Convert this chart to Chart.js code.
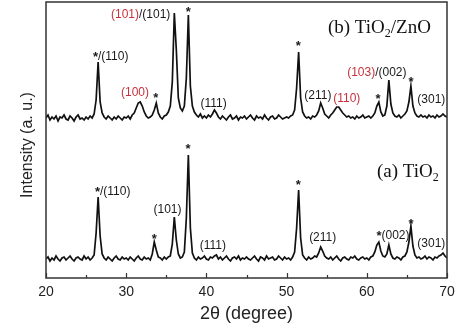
<!DOCTYPE html>
<html>
<head>
<meta charset="utf-8">
<script src="https://cdn.jsdelivr.net/npm/chart.js@4/dist/chart.umd.min.js"></script>
<style>
  html, body { margin: 0; padding: 0; background: #fff; }
  #wrap { width: 474px; height: 326px; position: relative; }
</style>
</head>
<body>
<div id="wrap"><canvas id="xrdChart"></canvas></div>
<script>
// scan grid: 2θ from 20° to 70°, one reading every 0.25°
const ANGLE_START = 20;
const ANGLE_STEP = 0.25;

// (b) TiO2/ZnO, intensity in a.u., 20° .. 70°
const intensityTiO2ZnO = [
  160,163,158,161,159,162,157,161,160,163,159,158,162,160,157,161,163,159,160,158,
  161,159,162,160,164,178,216,176,165,161,159,162,160,158,161,159,162,160,158,161,
  160,162,159,163,165,170,175,176,172,166,162,160,161,163,168,175,165,161,159,162,
  163,166,172,196,265,228,180,170,167,172,200,263,192,172,166,163,161,164,160,162,
  160,163,161,164,168,165,161,159,162,160,158,161,163,159,160,162,158,161,160,162,
  159,161,163,160,158,162,160,161,159,163,160,158,161,162,159,160,163,161,159,160,
  161,160,162,163,168,190,226,180,166,162,160,161,159,162,161,163,167,175,170,164,
  162,160,163,165,168,171,171,168,165,163,161,162,160,161,159,162,160,161,163,160,
  161,162,160,162,165,172,176,166,162,163,172,198,174,165,162,161,163,160,162,164,
  167,176,192,172,165,162,161,163,161,162,160,163,161,162,160,163,161,162,164,162,
  161
];

// (a) TiO2
const intensityTiO2 = [
  19,21,17,20,18,22,19,17,20,21,18,20,22,19,17,20,21,19,18,22,
  19,21,18,20,23,45,81,42,24,20,18,21,19,17,20,22,19,18,21,19,
  20,18,21,19,17,20,22,19,18,21,19,20,18,24,36,28,21,20,18,21,
  19,21,22,34,61,38,24,20,21,26,60,123,50,25,20,18,21,19,20,22,
  19,18,21,20,22,23,19,21,18,20,22,19,17,20,21,19,22,18,20,19,
  21,19,18,20,22,19,17,21,20,18,22,19,20,21,18,19,22,20,18,21,
  19,20,18,21,26,50,88,40,23,20,18,21,19,20,22,21,25,31,27,22,
  20,19,21,18,20,22,19,17,20,21,19,18,21,20,22,19,18,20,21,19,
  20,18,21,22,26,33,36,27,22,21,24,33,24,20,19,21,20,18,21,22,
  26,36,52,32,23,20,21,19,20,22,19,21,20,18,21,20,22,23,25,22,
  20
];

const majorTicks = [20, 30, 40, 50, 60, 70];
const minorTicks = [25, 35, 45, 55, 65];

const INK = '#1a1a1a';
const RED = '#c8323c';

// peak indexing labels, anchored in (2θ, intensity)
const peakLabels = [
  { x: 25.85, y: 221, align: 'left', parts: [['*', INK], ['/(110)', INK]] },
  { x: 28.1, y: 263, align: 'left', parts: [['(101)', RED], ['/(101)', INK]] },
  { x: 37.75, y: 265.5, parts: [['*', INK]] },
  { x: 31.1, y: 185, parts: [['(100)', RED]] },
  { x: 33.7, y: 179.5, parts: [['*', INK]] },
  { x: 40.9, y: 174, parts: [['(111)', INK]] },
  { x: 51.45, y: 231.5, parts: [['*', INK]] },
  { x: 53.9, y: 182, parts: [['(211)', INK]] },
  { x: 57.5, y: 179, parts: [['(110)', RED]] },
  { x: 61.4, y: 178.5, parts: [['*', INK]] },
  { x: 57.55, y: 205, align: 'left', parts: [['(103)', RED], ['/(002)', INK]] },
  { x: 65.5, y: 195.5, parts: [['*', INK]] },
  { x: 68.05, y: 178, parts: [['(301)', INK]] },

  { x: 26.1, y: 86, align: 'left', parts: [['*', INK], ['/(110)', INK]] },
  { x: 35.15, y: 68, parts: [['(101)', INK]] },
  { x: 37.7, y: 128.5, parts: [['*', INK]] },
  { x: 33.5, y: 38.5, parts: [['*', INK]] },
  { x: 40.8, y: 32, parts: [['(111)', INK]] },
  { x: 51.45, y: 92.5, parts: [['*', INK]] },
  { x: 54.5, y: 40, parts: [['(211)', INK]] },
  { x: 61.2, y: 42, align: 'left', parts: [['*', INK], ['(002)', INK]] },
  { x: 65.5, y: 53.5, parts: [['*', INK]] },
  { x: 68.05, y: 34, parts: [['(301)', INK]] }
];

// sample names, second item = subscript
const sampleNames = [
  { x: 55.15, y: 250, parts: [['(b) TiO'], ['2', true], ['/ZnO']] },
  { x: 61.27, y: 106, parts: [['(a) TiO'], ['2', true]] }
];

const LABEL_FONT = '12px "Liberation Sans", Arial, sans-serif';
const STAR_FONT = 'bold 13px "Liberation Sans", Arial, sans-serif';

function toPoints(values) {
  return values.map((v, i) => ({ x: ANGLE_START + i * ANGLE_STEP, y: v }));
}

const xrdDecor = {
  id: 'xrdDecor',
  afterDraw(chart) {
    const { ctx, chartArea: a, scales: { x, y } } = chart;
    ctx.save();

    // frame
    ctx.strokeStyle = '#333';
    ctx.lineWidth = 1.5;
    ctx.strokeRect(a.left, a.top, a.right - a.left, a.bottom - a.top);

    // inward tick marks on the bottom axis
    ctx.lineWidth = 1.2;
    ctx.beginPath();
    majorTicks.forEach(v => {
      const px = Math.round(x.getPixelForValue(v)) + 0.5;
      ctx.moveTo(px, a.bottom);
      ctx.lineTo(px, a.bottom - 5);
    });
    minorTicks.forEach(v => {
      const px = Math.round(x.getPixelForValue(v)) + 0.5;
      ctx.moveTo(px, a.bottom);
      ctx.lineTo(px, a.bottom - 3);
    });
    ctx.stroke();

    // peak labels
    ctx.textBaseline = 'middle';
    ctx.textAlign = 'left';
    peakLabels.forEach(lbl => {
      const fontFor = t => (t === '*' ? STAR_FONT : LABEL_FONT);
      const total = lbl.parts.reduce((s, p) => {
        ctx.font = fontFor(p[0]);
        return s + ctx.measureText(p[0]).width;
      }, 0);
      let px = x.getPixelForValue(lbl.x);
      if (lbl.align !== 'left') px -= total / 2;
      const py = y.getPixelForValue(lbl.y);
      lbl.parts.forEach(([text, color]) => {
        ctx.font = fontFor(text);
        ctx.fillStyle = color;
        ctx.fillText(text, px, py);
        px += ctx.measureText(text).width;
      });
    });

    // sample names in serif with subscript
    ctx.fillStyle = '#111';
    sampleNames.forEach(s => {
      let px = x.getPixelForValue(s.x);
      const py = y.getPixelForValue(s.y);
      s.parts.forEach(([text, sub]) => {
        ctx.font = sub ? '12px "Liberation Serif", "Times New Roman", serif'
                       : '19px "Liberation Serif", "Times New Roman", serif';
        ctx.fillText(text, px, sub ? py + 6 : py);
        px += ctx.measureText(text).width;
      });
    });

    // y axis title
    ctx.translate(28, (a.top + a.bottom) / 2 + 5);
    ctx.rotate(-Math.PI / 2);
    ctx.textAlign = 'center';
    ctx.font = '16px "Liberation Sans", Arial, sans-serif';
    ctx.fillStyle = '#222';
    ctx.fillText('Intensity (a. u.)', 0, 0);

    ctx.restore();
  }
};

const ctx = document.getElementById('xrdChart');
ctx.chart = new Chart(ctx, {
  type: 'line',
  data: {
    datasets: [
      {
        label: '(b) TiO2/ZnO',
        data: toPoints(intensityTiO2ZnO),
        borderColor: '#111',
        borderWidth: 1.7,
        pointRadius: 0,
        tension: 0
      },
      {
        label: '(a) TiO2',
        data: toPoints(intensityTiO2),
        borderColor: '#111',
        borderWidth: 1.7,
        pointRadius: 0,
        tension: 0
      }
    ]
  },
  options: {
    responsive: true,
    maintainAspectRatio: false,
    animation: false,
    layout: { padding: { top: 2, right: 27, left: 46, bottom: 0 } },
    plugins: {
      legend: { display: false },
      tooltip: { enabled: false }
    },
    scales: {
      x: {
        type: 'linear',
        min: 20,
        max: 70,
        grid: { display: false },
        border: { display: false },
        afterFit: scale => { scale.height = 48; },
        afterBuildTicks: scale => { scale.ticks = majorTicks.map(v => ({ value: v })); },
        ticks: {
          padding: -2,
          color: '#222',
          font: { family: '"Liberation Sans", Arial, sans-serif', size: 14 }
        },
        title: {
          display: true,
          text: '2θ (degree)',
          color: '#222',
          padding: { top: 0, bottom: 1 },
          font: { family: '"Liberation Sans", Arial, sans-serif', size: 18 }
        }
      },
      y: {
        display: false,
        min: 0,
        max: 276
      }
    }
  },
  plugins: [xrdDecor]
});
</script>
</body>
</html>
